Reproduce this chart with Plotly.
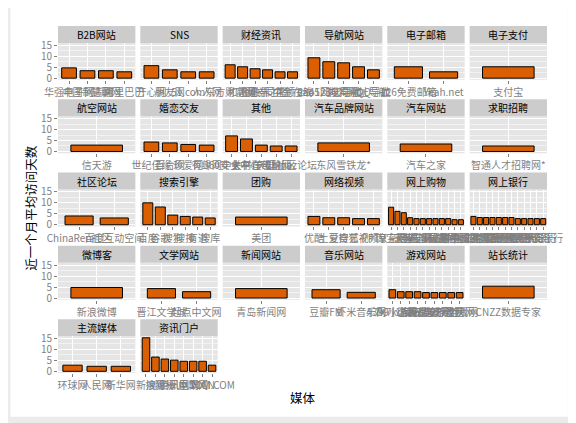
import plotly.graph_objects as go

# 各类媒体（分面）
facets = ["B2B网站", "SNS", "财经资讯", "导航网站", "电子邮箱", "电子支付",
          "航空网站", "婚恋交友", "其他", "汽车品牌网站", "汽车网站", "求职招聘",
          "社区论坛", "搜索引擎", "团购", "网络视频", "网上购物", "网上银行",
          "微博客", "文学网站", "新闻网站", "音乐网站", "游戏网站", "站长统计",
          "主流媒体", "资讯门户"]

# 每个分面下的网站
sites = [
    ["华强电子网", "中国制造网", "慧聪网", "阿里巴巴"],
    ["开心网", "朋友网", "51.com", "人人网"],
    ["东方财富网", "和讯网", "金融界", "证券之星", "同花顺", "中金在线"],
    ["hao123", "2345网址导航", "360导航", "搜狗网址导航", "QQ导航"],
    ["126免费邮箱", "Yeah.net"],
    ["支付宝"],
    ["信天游"],
    ["世纪佳缘", "百合网", "珍爱网", "有缘网"],
    ["360安全中心", "中关村在线", "太平洋电脑网", "天涯社区", "Chinaz论坛"],
    ["东风雪铁龙*"],
    ["汽车之家"],
    ["智通人才招聘网*"],
    ["ChinaRen社区", "百度互动空间"],
    ["百度", "谷歌", "搜狗", "搜搜", "有道", "搜库"],
    ["美团"],
    ["优酷", "土豆", "爱奇艺", "搜狐视频", "PPTV"],
    ["淘宝网", "京东商城", "天猫", "亚马逊", "当当网", "苏宁易购",
     "凡客诚品", "1号店", "易迅网", "国美在线", "拍拍网", "聚美优品"],
    ["中国工商银行", "中国建设银行", "招商银行", "中国银行", "中国农业银行", "交通银行",
     "民生银行", "兴业银行", "浦发银行", "中信银行", "光大银行", "平安银行"],
    ["新浪微博"],
    ["晋江文学城", "起点中文网"],
    ["青岛新闻网"],
    ["豆瓣FM", "虾米音乐网"],
    ["4399小游戏", "7k7k小游戏", "17173", "游民星空", "多玩游戏网",
     "太平洋游戏网", "电玩巴士", "52PK游戏网", "游侠网"],
    ["CNZZ数据专家"],
    ["环球网", "人民网", "新华网"],
    ["新浪", "搜狐", "网易", "腾讯网", "凤凰网", "中华网", "21CN", "TOM.COM"],
]

# 近一个月平均访问天数
days = [
    [4.7, 3.4, 3.4, 2.9],
    [5.7, 3.8, 2.9, 2.9],
    [6.1, 5.2, 4.3, 3.8, 2.9, 2.9],
    [9.3, 7.5, 7.0, 5.2, 3.8],
    [5.2, 2.9],
    [5.2],
    [2.9],
    [4.3, 3.9, 3.2, 2.9],
    [7.1, 5.7, 2.9, 2.5, 2.5],
    [3.9],
    [3.4],
    [2.5],
    [4.0, 3.1],
    [10.0, 8.1, 4.4, 3.8, 3.5, 3.1],
    [3.5],
    [3.8, 3.2, 3.2, 2.8, 2.8],
    [8.0, 6.1, 5.5, 3.2, 2.8, 2.8, 2.8, 2.8, 2.8, 2.8, 2.3, 2.3],
    [3.8, 3.3, 3.3, 3.3, 3.3, 3.3, 3.3, 2.8, 2.8, 2.8, 2.8, 2.8],
    [4.8],
    [4.3, 2.9],
    [4.3],
    [3.8, 2.6],
    [3.8, 2.9, 2.9, 2.9, 2.5, 2.5, 2.5, 2.5, 2.5],
    [5.4],
    [2.8, 2.3, 2.3],
    [15.3, 6.5, 5.6, 5.1, 4.6, 4.6, 4.6, 2.8],
]

font_cn = "Noto Sans CJK SC"
OFF = 8  # 页面默认边距，下面的像素位置按截图坐标给出
W, H = 576 - OFF, 423 - OFF
L, R, T, B = 50, 25, 17, 50
pw, ph = W - L - R, H - T - B


def px_x(x):
    return (x - OFF - L) / pw


def px_y(y):
    return (H - B - (y - OFF)) / ph


ymax = max(max(v) for v in days)
yrange = [-0.05 * ymax, 1.05 * ymax]

fig = go.Figure()

# 外框
shapes = [
    dict(type="rect", xref="paper", yref="paper", layer="below",
         x0=px_x(10), x1=px_x(572), y0=px_y(417), y1=px_y(0),
         fillcolor="white", line=dict(width=0)),
]
annotations = []
layout_axes = {}

for k, name in enumerate(facets):
    r, c = divmod(k, 6)
    n = k + 1
    sfx = "" if n == 1 else str(n)
    x0 = 58 + c * 83
    x1 = x0 + 78
    top = 25 + r * 73.5
    strip_bot = top + 17
    bot = top + 54

    fig.add_trace(go.Bar(
        x=sites[k], y=days[k], xaxis="x" + sfx, yaxis="y" + sfx,
        width=0.8, marker=dict(color="#D95F02", line=dict(color="black", width=1)),
        showlegend=False,
    ))

    layout_axes["xaxis" + sfx] = dict(
        domain=[px_x(x0), px_x(x1)], anchor="y" + sfx, type="category",
        range=[-0.6, len(sites[k]) - 0.4], tickmode="linear", tick0=0, dtick=1,
        tickangle=0, ticks="outside", ticklen=3, tickcolor="#7f7f7f",
        tickfont=dict(family=font_cn, size=10, color="#7f7f7f"),
        showgrid=True, gridcolor="white", gridwidth=1,
        zeroline=False, showline=False, fixedrange=True,
    )
    layout_axes["yaxis" + sfx] = dict(
        domain=[px_y(bot), px_y(strip_bot)], anchor="x" + sfx,
        range=yrange, tick0=0, dtick=5,
        showticklabels=(c == 0), ticks="outside" if c == 0 else "",
        ticklen=3, tickcolor="#7f7f7f",
        tickfont=dict(family=font_cn, size=10, color="#7f7f7f"),
        showgrid=True, gridcolor="white", gridwidth=1,
        minor=dict(dtick=2.5, showgrid=True, gridcolor="#f2f2f2", gridwidth=0.6),
        zeroline=False, showline=False, fixedrange=True,
    )

    # 面板底色
    shapes.append(dict(type="rect", xref="x" + sfx + " domain", yref="y" + sfx + " domain",
                       layer="below", x0=0, x1=1, y0=0, y1=1,
                       fillcolor="#e5e5e5", line=dict(width=0)))
    # 分面标题条
    shapes.append(dict(type="rect", xref="paper", yref="paper",
                       x0=px_x(x0), x1=px_x(x1), y0=px_y(strip_bot), y1=px_y(top),
                       fillcolor="#cccccc", line=dict(width=0)))
    annotations.append(dict(text=name, xref="paper", yref="paper",
                            x=px_x((x0 + x1) / 2), y=px_y((top + strip_bot) / 2),
                            xanchor="center", yanchor="middle", showarrow=False,
                            font=dict(family=font_cn, size=10, color="black")))

annotations.append(dict(text="近一个月平均访问天数", xref="paper", yref="paper",
                        x=px_x(30), y=px_y(207), textangle=-90,
                        xanchor="center", yanchor="middle", showarrow=False,
                        font=dict(family=font_cn, size=12.5, color="black")))
annotations.append(dict(text="媒体", xref="paper", yref="paper",
                        x=px_x(305), y=px_y(398),
                        xanchor="center", yanchor="middle", showarrow=False,
                        font=dict(family=font_cn, size=12.5, color="black")))

fig.update_layout(
    width=W, height=H,
    margin=dict(l=L, r=R, t=T, b=B),
    paper_bgcolor="#ebebeb",
    plot_bgcolor="#e5e5e5",
    bargap=0.2,
    shapes=shapes,
    annotations=annotations,
    font=dict(family=font_cn),
    **layout_axes,
)

fig.write_html("out.html")
